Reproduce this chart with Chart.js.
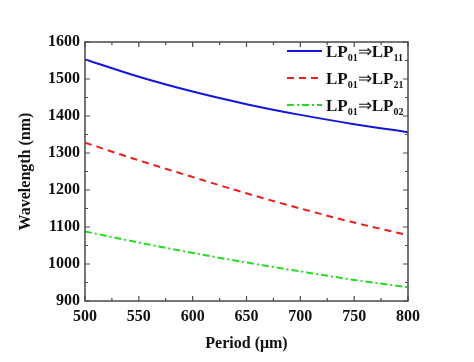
<!DOCTYPE html>
<html>
<head>
<meta charset="utf-8">
<script src="https://cdn.jsdelivr.net/npm/chart.js@4.4.1/dist/chart.umd.min.js"></script>
<style>
	html, body { margin: 0; padding: 0; background: #fff; }
	#wrap { width: 474px; height: 362px; }
</style>
</head>
<body>
<div id="wrap"><canvas id="chart" width="474" height="362"></canvas></div>
<script>
// valeurs
const periods = [500, 550, 600, 650, 700, 750, 800];
const lp11 = [1553, 1506, 1466, 1432, 1403, 1378, 1356];
const lp21 = [1328, 1280, 1235, 1191, 1150, 1112, 1078];
const lp02 = [1088, 1058, 1030, 1004, 980, 957, 937];
const subModes = ['11', '21', '02']; // indices pour la legende LP01 => LPxx
const yTicks = [900, 1000, 1100, 1200, 1300, 1400, 1500, 1600];

const FONT = '"Liberation Serif", "Times New Roman", serif';
const FRAME = '#4a4a4a';

function toPoints(vals) {
	return periods.map((p, i) => ({ x: p, y: vals[i] }));
}

// cadre + ticks internes sur les 4 cotes, et legende avec indices
const framePlugin = {
	id: 'frame',
	afterDraw(chart) {
		const ctx = chart.ctx;
		const a = chart.chartArea;
		const xs = chart.scales.x, ys = chart.scales.y;
		ctx.save();
		ctx.strokeStyle = FRAME;
		ctx.lineWidth = 1.5;
		ctx.strokeRect(a.left, a.top, a.right - a.left, a.bottom - a.top);

		ctx.lineWidth = 1.2;
		ctx.beginPath();
		for (let v = 500; v <= 800; v += 25) {
			const px = xs.getPixelForValue(v);
			const len = (v % 50 === 0) ? 5 : 3;
			ctx.moveTo(px, a.bottom); ctx.lineTo(px, a.bottom - len);
			ctx.moveTo(px, a.top); ctx.lineTo(px, a.top + len);
		}
		for (let v = 900; v <= 1600; v += 50) {
			const py = ys.getPixelForValue(v);
			const len = (v % 100 === 0) ? 5 : 3;
			ctx.moveTo(a.left, py); ctx.lineTo(a.left + len, py);
			ctx.moveTo(a.right, py); ctx.lineTo(a.right - len, py);
		}
		ctx.stroke();

		// legende
		const x0 = 287, x1 = 322, tx = 326;
		chart.data.datasets.forEach((ds, i) => {
			const y = 51 + i * 27;
			ctx.strokeStyle = ds.borderColor;
			ctx.lineWidth = 2;
			ctx.setLineDash(ds.borderDash || []);
			ctx.beginPath();
			ctx.moveTo(x0, y); ctx.lineTo(x1, y);
			ctx.stroke();
			ctx.setLineDash([]);

			ctx.fillStyle = '#111';
			ctx.textBaseline = 'alphabetic';
			let x = tx;
			const big = 'bold 17px ' + FONT, small = 'bold 10px ' + FONT, arrow = '17px ' + FONT;
			const parts = [['LP', big, 0], ['01', small, 4], ['\u21D2', arrow, 0], ['LP', big, 0], [subModes[i], small, 4]];
			parts.forEach(p => {
				ctx.font = p[1];
				ctx.fillText(p[0], x, y + 6 + p[2]);
				x += ctx.measureText(p[0]).width;
			});
		});
		ctx.restore();
	}
};

new Chart(document.getElementById('chart'), {
	type: 'line',
	data: {
		datasets: [
			{ label: 'LP01=>LP11', data: toPoints(lp11), borderColor: '#1515d8', borderWidth: 2, pointRadius: 0, cubicInterpolationMode: 'monotone' },
			{ label: 'LP01=>LP21', data: toPoints(lp21), borderColor: '#ee1c1c', borderWidth: 2, borderDash: [7, 5], pointRadius: 0, cubicInterpolationMode: 'monotone' },
			{ label: 'LP01=>LP02', data: toPoints(lp02), borderColor: '#22dd22', borderWidth: 2, borderDash: [7, 3, 2, 3], pointRadius: 0, cubicInterpolationMode: 'monotone' }
		]
	},
	options: {
		responsive: false,
		animation: false,
		layout: { padding: { left: 16, right: 66, top: 42, bottom: 0 } },
		plugins: { legend: { display: false }, tooltip: { enabled: false } },
		scales: {
			x: {
				type: 'linear',
				min: 500, max: 800,
				grid: { display: false, drawTicks: false },
				border: { display: false },
				ticks: { stepSize: 50, padding: 6, color: '#111', font: { family: FONT, size: 16, weight: 'bold' }, callback: v => String(v) },
				title: { display: true, text: 'Period (\u03BCm)', color: '#111', padding: { top: 4, bottom: 9 }, font: { family: FONT, size: 16, weight: 'bold' } },
				afterFit(scale) { scale.height = 61; }
			},
			y: {
				min: 900, max: 1600,
				grid: { display: false, drawTicks: false },
				border: { display: false },
				afterBuildTicks(scale) { scale.ticks = yTicks.map(v => ({ value: v })); },
				ticks: { padding: 5, color: '#111', font: { family: FONT, size: 16, weight: 'bold' }, callback: v => String(v) },
				title: { display: true, text: 'Wavelength (nm)', color: '#111', padding: { top: 0, bottom: 0 }, font: { family: FONT, size: 16, weight: 'bold' } },
				afterFit(scale) { scale.width = 69; }
			}
		}
	},
	plugins: [framePlugin]
});
</script>
</body>
</html>
